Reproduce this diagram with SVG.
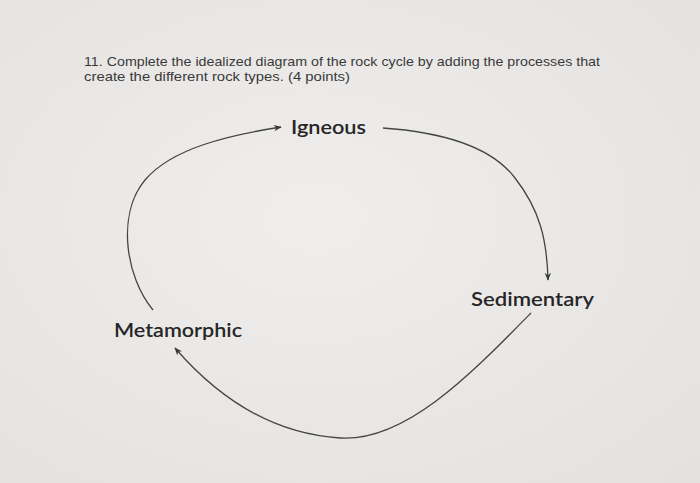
<svg xmlns="http://www.w3.org/2000/svg" width="700" height="483" viewBox="0 0 700 483">
  <defs>
    <radialGradient id="paper" cx="45%" cy="45%" r="75%">
      <stop offset="0" stop-color="#efeeec"/>
      <stop offset="1" stop-color="#e3e2e0"/>
    </radialGradient>
    <marker id="arrow" viewBox="0 0 10 10" refX="9" refY="5" markerWidth="8" markerHeight="8" markerUnits="userSpaceOnUse" orient="auto">
      <path d="M0,1 L10,5 L0,9 L3,5 Z" fill="#3a3a3a"/>
    </marker>
    <style>
      .q { font-family: "Liberation Sans", Arial, sans-serif; font-size: 13.5px; fill: #3a3a3a; }
      .lbl { font-family: Lato, "Open Sans", sans-serif; font-size: 20px; font-weight: 600; fill: #262626; }
      .conn { fill: none; stroke: #444; stroke-width: 1.3; marker-end: url(#arrow); }
    </style>
  </defs>
  <rect width="700" height="483" fill="url(#paper)"/>
  <g id="question">
    <text class="q" x="84" y="66" textLength="516" lengthAdjust="spacingAndGlyphs">11. Complete the idealized diagram of the rock cycle by adding the processes that</text>
    <text class="q" x="84" y="81" textLength="266" lengthAdjust="spacingAndGlyphs">create the different rock types. (4 points)</text>
  </g>
  <g id="connectors">
    <path class="conn" d="M153,310 C126,278 116,215 145,180 C172,148 230,135 281,127"/>
    <path class="conn" d="M383,128 C440,132 490,145 515,178 C540,210 547,240 548,280"/>
    <path class="conn" d="M531,313 C470,375 405,442 340,438 C275,434 220,400 175,348"/>
  </g>
  <g id="igneous">
    <text class="lbl" x="291" y="134" textLength="75" lengthAdjust="spacingAndGlyphs">Igneous</text>
  </g>
  <g id="sedimentary">
    <text class="lbl" x="471" y="306" textLength="123" lengthAdjust="spacingAndGlyphs">Sedimentary</text>
  </g>
  <g id="metamorphic">
    <text class="lbl" x="114" y="337" textLength="128" lengthAdjust="spacingAndGlyphs">Metamorphic</text>
  </g>
</svg>
